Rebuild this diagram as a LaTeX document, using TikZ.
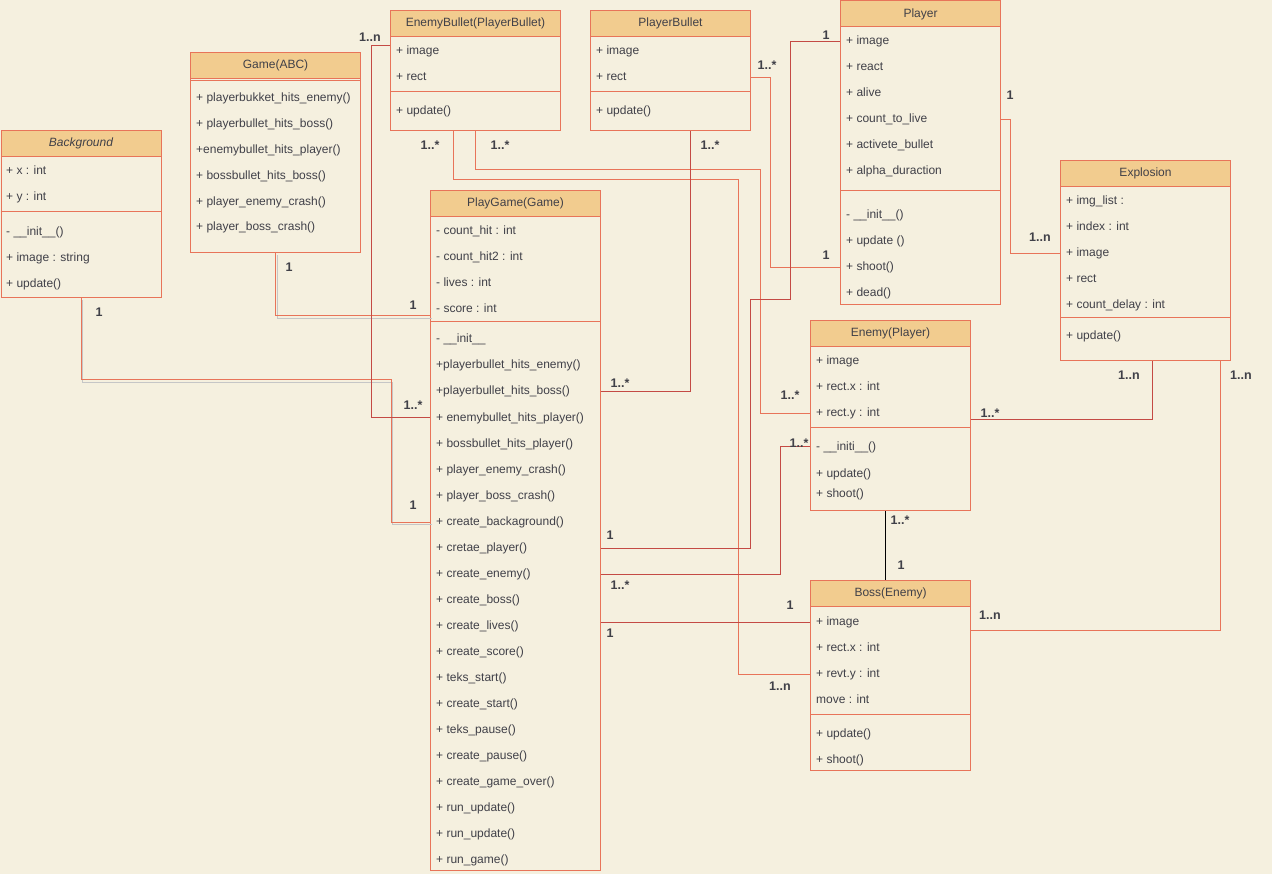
\documentclass[tikz,border=0pt]{standalone}
\usepackage{fontspec}
\setmainfont{Liberation Sans}

\definecolor{canvas}{RGB}{245,240,223}
\definecolor{headfill}{RGB}{242,204,143}
\definecolor{border}{RGB}{232,116,89}
\definecolor{darkline}{RGB}{196,74,68}
\definecolor{ink}{RGB}{64,64,72}

\begin{document}
\begin{tikzpicture}[x=1pt, y=-1pt,
    box/.style={draw=border, fill=canvas, line width=1pt, anchor=north west, inner sep=0pt},
    head/.style={draw=border, fill=headfill, line width=1pt, anchor=north west, inner sep=0pt,
        minimum height=26pt, font=\fontsize{12}{14}\selectfont, text=ink},
    row/.style={anchor=base west, inner sep=0pt, text height=9pt, text depth=3pt,
        font=\fontsize{12}{14}\selectfont, text=ink},
    mult/.style={inner sep=0pt, font=\fontsize{12.5}{14}\selectfont\bfseries, text=ink},
    link/.style={draw=border, line width=1pt},
    dark/.style={draw=darkline, line width=1pt},
    shadowed/.style={preaction={draw=gray!45, line width=0.8pt, transform canvas={shift={(1.5,2.5)}}}}]

    \path[use as bounding box, fill=canvas] (0,0) rectangle (1272,874);

    % Background
    \node[box, minimum width=160pt, minimum height=167pt] (bg) at (0.5,130) {};
    \node[head, minimum width=160pt] (bg-h) at (0.5,130) {\itshape Background};
    \draw[link] (bg.west |- 0,212) -- (bg.east |- 0,212);
    \foreach \t [count=\i] in {+ x : int, + y : int}
        \node[row] (bg-a\i) at (6,149+26*\i) {\t};
    \foreach \t [count=\i] in {- \_\_init\_\_(), + image : string, + update()}
        \node[row] (bg-m\i) at (6,210+26*\i) {\t};

    % Game(ABC)
    \node[box, minimum width=170pt, minimum height=200pt] (game) at (190,52) {};
    \node[head, minimum width=170pt] (game-h) at (190,52) {Game(ABC)};
    \draw[link] (game.west |- 0,81) -- (game.east |- 0,81);
    \foreach \t [count=\i] in {+ playerbukket\_hits\_enemy(), + playerbullet\_hits\_boss(),
            +enemybullet\_hits\_player(), + bossbullet\_hits\_boss(),
            + player\_enemy\_crash(), + player\_boss\_crash()}
        \node[row] (game-m\i) at (196,76.2+25.8*\i) {\t};

    % EnemyBullet(PlayerBullet)
    \node[box, minimum width=170pt, minimum height=120pt] (eb) at (390,10) {};
    \node[head, minimum width=170pt] (eb-h) at (390,10) {EnemyBullet(PlayerBullet)};
    \draw[link] (eb.west |- 0,92) -- (eb.east |- 0,92);
    \foreach \t [count=\i] in {+ image, + rect}
        \node[row] (eb-a\i) at (396,29+26*\i) {\t};
    \node[row] (eb-m1) at (396,115) {+ update()};

    % PlayerBullet
    \node[box, minimum width=160pt, minimum height=120pt] (pb) at (590,10) {};
    \node[head, minimum width=160pt] (pb-h) at (590,10) {PlayerBullet};
    \draw[link] (pb.west |- 0,92) -- (pb.east |- 0,92);
    \foreach \t [count=\i] in {+ image, + rect}
        \node[row] (pb-a\i) at (596,29+26*\i) {\t};
    \node[row] (pb-m1) at (596,115) {+ update()};

    % Player
    \node[box, minimum width=160pt, minimum height=303.5pt] (pl) at (840,0.5) {};
    \node[head, minimum width=160pt] (pl-h) at (840,0.5) {Player};
    \draw[link] (pl.west |- 0,191) -- (pl.east |- 0,191);
    \foreach \t [count=\i] in {+ image, + react, + alive, + count\_to\_live,
            + activete\_bullet, + alpha\_duraction}
        \node[row] (pl-a\i) at (846,19+26*\i) {\t};
    \foreach \t [count=\i] in {- \_\_init\_\_(), + update (), + shoot(), + dead()}
        \node[row] (pl-m\i) at (846,193+26*\i) {\t};

    % Explosion
    \node[box, minimum width=170pt, minimum height=200pt] (ex) at (1060,160) {};
    \node[head, minimum width=170pt] (ex-h) at (1060,160) {Explosion};
    \draw[link] (ex.west |- 0,318) -- (ex.east |- 0,318);
    \foreach \t [count=\i] in {+ img\_list :, + index : int, + image, + rect,
            + count\_delay : int}
        \node[row] (ex-a\i) at (1066,179+26*\i) {\t};
    \node[row] (ex-m1) at (1066,340) {+ update()};

    % PlayGame(Game)
    \node[box, minimum width=170pt, minimum height=680pt] (pg) at (430,190) {};
    \node[head, minimum width=170pt] (pg-h) at (430,190) {PlayGame(Game)};
    \draw[link] (pg.west |- 0,322) -- (pg.east |- 0,322);
    \foreach \t [count=\i] in {- count\_hit : int, - count\_hit2 : int, - lives : int,
            - score : int}
        \node[row] (pg-a\i) at (436,209+26*\i) {\t};
    \foreach \t [count=\i] in {- \_\_init\_\_, +playerbullet\_hits\_enemy(),
            +playerbullet\_hits\_boss(), + enemybullet\_hits\_player(),
            + bossbullet\_hits\_player(), + player\_enemy\_crash(),
            + player\_boss\_crash(), + create\_backaground(), + cretae\_player(),
            + create\_enemy(), + create\_boss(), + create\_lives(), + create\_score(),
            + teks\_start(), + create\_start(), + teks\_pause(), + create\_pause(),
            + create\_game\_over(), + run\_update(), + run\_update(), + run\_game()}
        \node[row] (pg-m\i) at (436,317+26*\i) {\t};

    % Enemy(Player)
    \node[box, minimum width=160pt, minimum height=190pt] (en) at (810,320) {};
    \node[head, minimum width=160pt] (en-h) at (810,320) {Enemy(Player)};
    \draw[link] (en.west |- 0,428) -- (en.east |- 0,428);
    \foreach \t [count=\i] in {+ image, + rect.x : int, + rect.y : int}
        \node[row] (en-a\i) at (816,339+26*\i) {\t};
    \foreach \t/\y [count=\i] in {- \_\_initi\_\_()/450, + update()/477, + shoot()/497}
        \node[row] (en-m\i) at (816,\y) {\t};

    % Boss(Enemy)
    \node[box, minimum width=160pt, minimum height=190pt] (bs) at (810,580) {};
    \node[head, minimum width=160pt] (bs-h) at (810,580) {Boss(Enemy)};
    \draw[link] (bs.west |- 0,714) -- (bs.east |- 0,714);
    \foreach \t [count=\i] in {+ image, + rect.x : int, + revt.y : int, move : int}
        \node[row] (bs-a\i) at (816,599+26*\i) {\t};
    \foreach \t [count=\i] in {+ update(), + shoot()}
        \node[row] (bs-m\i) at (816,711+26*\i) {\t};

    % connectors
    \draw[link, shadowed] (bg.south) |- (391,380) |- (pg.west |- pg-m8);
    \draw[link, shadowed] (game.south) |- (pg.west |- 0,316);
    \draw[dark] (eb.west |- 0,46) -| (371,0 |- pg-m4) -- (pg.west |- pg-m4);
    \draw[link] (eb.south) |- (760,170) |- (en.west |- en-a3);
    \draw[link] ([xshift=-22pt]eb.south) |- (738,180) |- (bs.west |- bs-a3);
    \draw[dark] (pg.east |- pg-m3) -| ([xshift=20pt]pb.south);
    \draw[link] (pb.east |- pb-a2) -| (770,0 |- pl-m3) -- (pl.west |- pl-m3);
    \draw[dark] (pg.east |- pg-m9) -| (750,300) -| (790,0 |- pl-a1) -- (pl.west |- pl-a1);
    \draw[dark] (pg.east |- pg-m10) -| (780,0 |- en-m1) -- (en.west |- en-m1);
    \draw[dark] (pg.east |- bs-a1) -- (bs.west |- bs-a1);
    \draw[link] (pl.east |- pl-a4) -| (1010,0 |- ex-a3) -- (ex.west |- ex-a3);
    \draw[dark] (en.east |- 0,420) -| ([xshift=7pt]ex.south);
    \draw[link] (bs.east |- 0,630) -| ([xshift=75pt]ex.south);
    \draw[black, line width=1pt] ([xshift=-5pt]en.south) -- ([xshift=-5pt]bs.north);

    % multiplicities
    \foreach \x/\y/\t [count=\i] in {99/312/1, 413/505/1, 289/267/1, 413/305/1,
            370/37/1..n, 413/405/1..*, 430/145/1..*, 500/145/1..*, 710/145/1..*,
            620/383/1..*, 767/65/1..*, 826/35/1, 826/255/1, 1010/95/1, 1040/237/1..n,
            790/395/1..*, 799/443/1..*, 610/535/1, 620/585/1..*, 790/605/1,
            610/633/1, 780/686/1..n, 990/413/1..*, 1129/375/1..n, 1241/375/1..n,
            990/615/1..n, 900/520/1..*, 901/565/1}
        \node[mult] (mul\i) at (\x,\y) {\t};
\end{tikzpicture}
\end{document}
